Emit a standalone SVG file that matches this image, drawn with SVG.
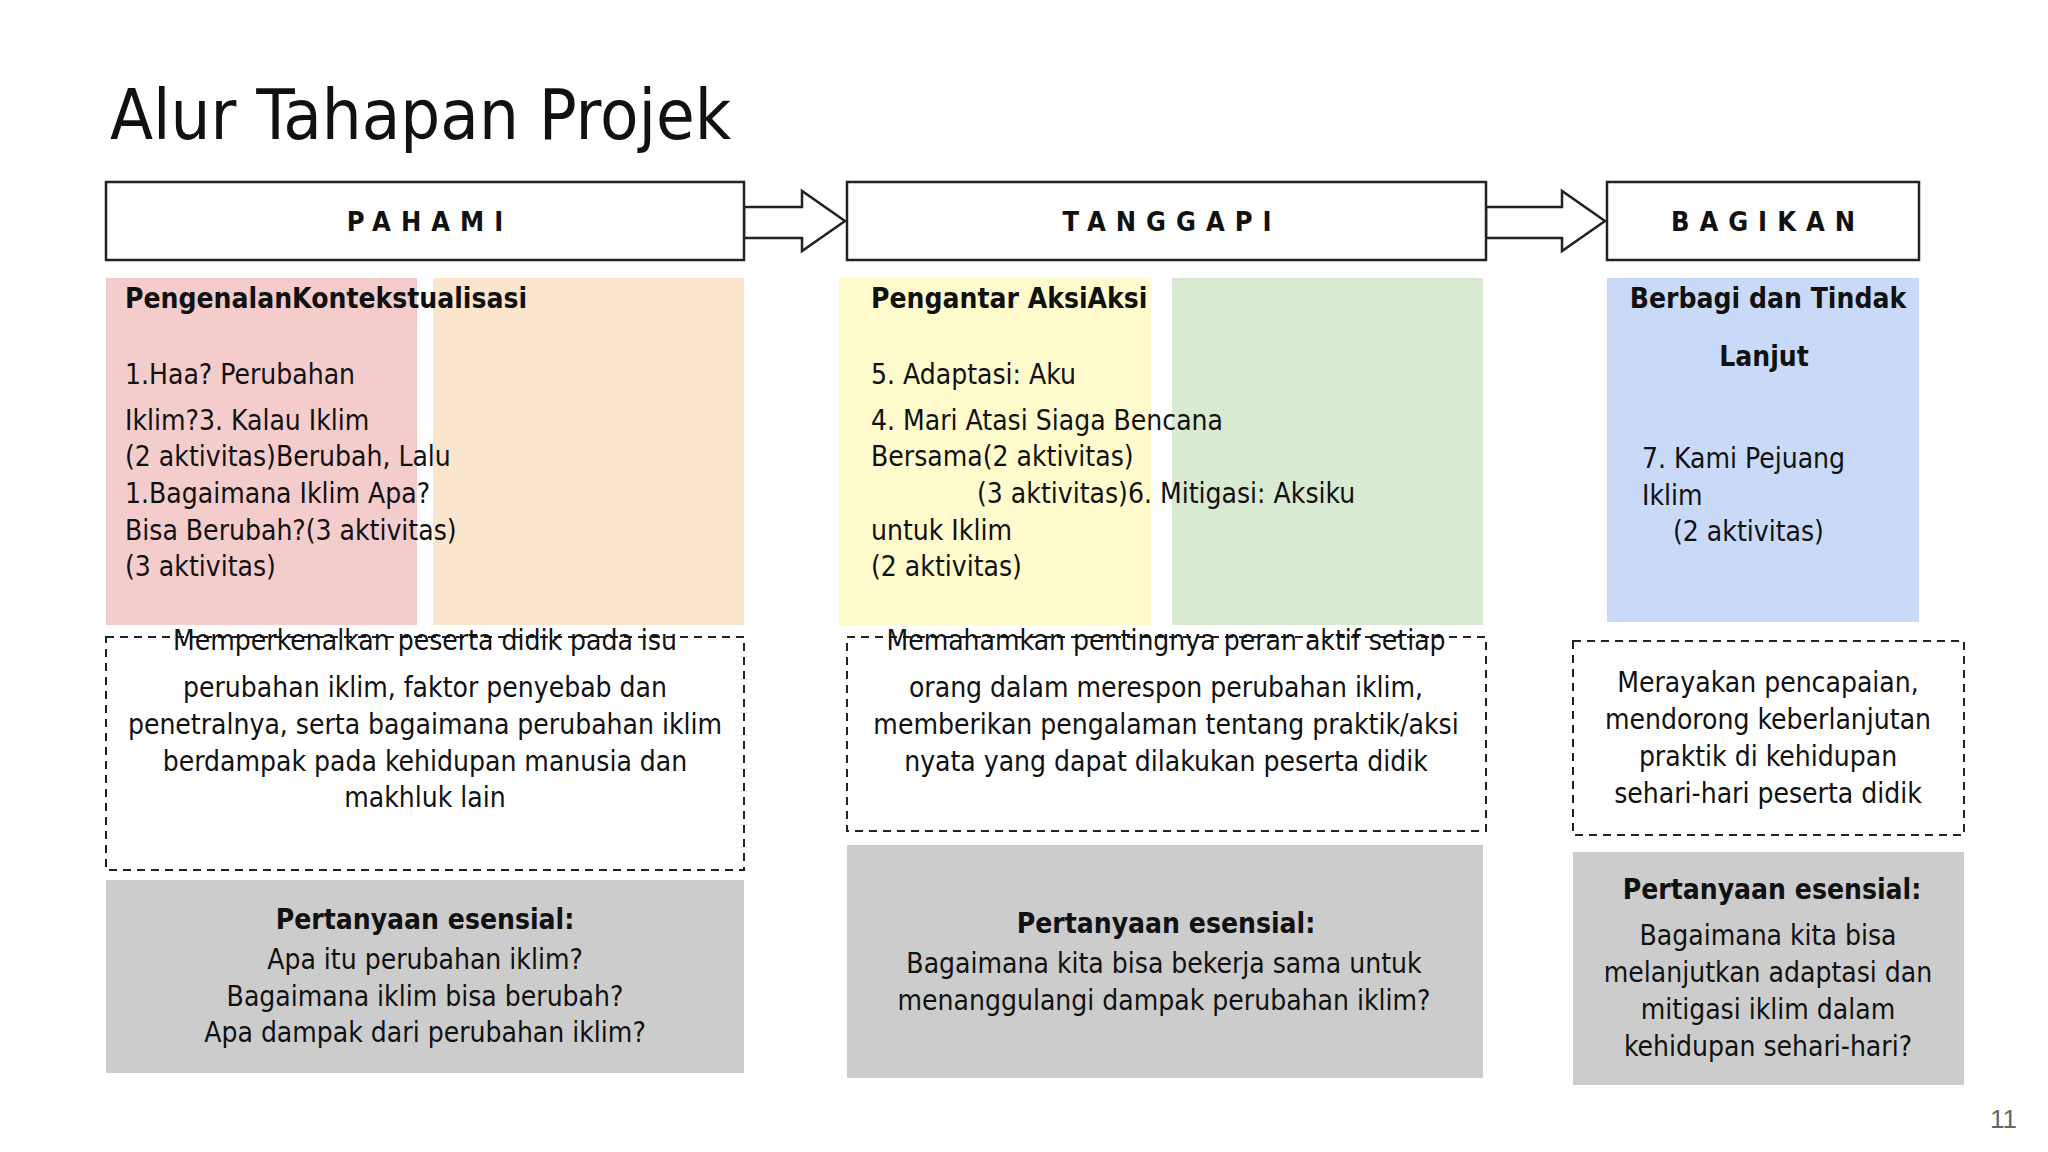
<svg xmlns="http://www.w3.org/2000/svg" width="2048" height="1152" viewBox="0 0 2048 1152">
<style>
text{font-family:"Liberation Sans Narrow","DejaVu Sans Condensed","Roboto Condensed","Liberation Sans",sans-serif;fill:#111}
.t{font-size:28px}
.b{font-size:28px;font-weight:bold}
.h{font-size:27px;font-weight:bold;letter-spacing:10px;text-anchor:middle}
.c{text-anchor:middle}
.hdr{fill:#fff;stroke:#222;stroke-width:2.5}
.dash{fill:#fff;stroke:#222;stroke-width:2;stroke-dasharray:8 6}
.gray{fill:#cccccc}
.arrow{fill:#fff;stroke:#222;stroke-width:2.5}
</style>
<rect width="2048" height="1152" fill="#fff"/>
<text x="110" y="139" style="font-size:70px">Alur Tahapan Projek</text>

<g id="connectors">
<polygon class="arrow" points="744,207 802,207 802,191 845,221 802,251 802,238 744,238"/>
<polygon class="arrow" points="1486,207 1562,207 1562,191 1605,221 1562,251 1562,238 1486,238"/>
</g>

<g id="pahami">
<rect class="hdr" x="106" y="182" width="638" height="78"/>
<text class="h" x="430" y="231">PAHAMI</text>
</g>
<g id="tanggapi">
<rect class="hdr" x="847" y="182" width="639" height="78"/>
<text class="h" x="1172" y="231">TANGGAPI</text>
</g>
<g id="bagikan">
<rect class="hdr" x="1607" y="182" width="312" height="78"/>
<text class="h" x="1768" y="231">BAGIKAN</text>
</g>

<g id="pahami-activities">
<rect x="106" y="278" width="311" height="347" fill="#f4cccc"/>
<rect x="433" y="278" width="311" height="347" fill="#fce5cd"/>
<text class="b" x="125" y="308">PengenalanKontekstualisasi</text>
<text class="t" x="125" y="384">1.Haa? Perubahan</text>
<text class="t" x="125" y="430">Iklim?3. Kalau Iklim</text>
<text class="t" x="125" y="466">(2 aktivitas)Berubah, Lalu</text>
<text class="t" x="125" y="503">1.Bagaimana Iklim Apa?</text>
<text class="t" x="125" y="540">Bisa Berubah?(3 aktivitas)</text>
<text class="t" x="125" y="576">(3 aktivitas)</text>
</g>

<g id="tanggapi-activities">
<rect x="839" y="278" width="312" height="347" fill="#fffbcc"/>
<rect x="1172" y="278" width="311" height="347" fill="#d9ead3"/>
<text class="b" x="871" y="308">Pengantar AksiAksi</text>
<text class="t" x="871" y="384">5. Adaptasi: Aku</text>
<text class="t" x="871" y="430">4. Mari Atasi Siaga Bencana</text>
<text class="t" x="871" y="466">Bersama(2 aktivitas)</text>
<text class="t" x="977" y="503">(3 aktivitas)6. Mitigasi: Aksiku</text>
<text class="t" x="871" y="540">untuk Iklim</text>
<text class="t" x="871" y="576">(2 aktivitas)</text>
</g>

<g id="bagikan-activities">
<rect x="1607" y="278" width="312" height="344" fill="#c9daf8"/>
<text class="b c" x="1768" y="308">Berbagi dan Tindak</text>
<text class="b c" x="1764" y="366">Lanjut</text>
<text class="t" x="1642" y="468">7. Kami Pejuang</text>
<text class="t" x="1642" y="505">Iklim</text>
<text class="t" x="1673" y="541">(2 aktivitas)</text>
</g>

<g id="pahami-desc">
<rect class="dash" x="106" y="637" width="638" height="233"/>
<text class="t c" x="425" y="650">Memperkenalkan peserta didik pada isu</text>
<text class="t c" x="425" y="697">perubahan iklim, faktor penyebab dan</text>
<text class="t c" x="425" y="734">penetralnya, serta bagaimana perubahan iklim</text>
<text class="t c" x="425" y="771">berdampak pada kehidupan manusia dan</text>
<text class="t c" x="425" y="807">makhluk lain</text>
</g>
<g id="tanggapi-desc">
<rect class="dash" x="847" y="637" width="639" height="194"/>
<text class="t c" x="1166" y="650">Memahamkan pentingnya peran aktif setiap</text>
<text class="t c" x="1166" y="697">orang dalam merespon perubahan iklim,</text>
<text class="t c" x="1166" y="734">memberikan pengalaman tentang praktik/aksi</text>
<text class="t c" x="1166" y="771">nyata yang dapat dilakukan peserta didik</text>
</g>
<g id="bagikan-desc">
<rect class="dash" x="1573" y="641" width="391" height="194"/>
<text class="t c" x="1768" y="692">Merayakan pencapaian,</text>
<text class="t c" x="1768" y="729">mendorong keberlanjutan</text>
<text class="t c" x="1768" y="766">praktik di kehidupan</text>
<text class="t c" x="1768" y="803">sehari-hari peserta didik</text>
</g>

<g id="pahami-question">
<rect class="gray" x="106" y="880" width="638" height="193"/>
<text class="b c" x="425" y="929">Pertanyaan esensial:</text>
<text class="t c" x="425" y="969">Apa itu perubahan iklim?</text>
<text class="t c" x="425" y="1006">Bagaimana iklim bisa berubah?</text>
<text class="t c" x="425" y="1042">Apa dampak dari perubahan iklim?</text>
</g>
<g id="tanggapi-question">
<rect class="gray" x="847" y="845" width="636" height="233"/>
<text class="b c" x="1166" y="933">Pertanyaan esensial:</text>
<text class="t c" x="1164" y="973">Bagaimana kita bisa bekerja sama untuk</text>
<text class="t c" x="1164" y="1010">menanggulangi dampak perubahan iklim?</text>
</g>
<g id="bagikan-question">
<rect class="gray" x="1573" y="852" width="391" height="233"/>
<text class="b c" x="1772" y="899">Pertanyaan esensial:</text>
<text class="t c" x="1768" y="945">Bagaimana kita bisa</text>
<text class="t c" x="1768" y="982">melanjutkan adaptasi dan</text>
<text class="t c" x="1768" y="1019">mitigasi iklim dalam</text>
<text class="t c" x="1768" y="1056">kehidupan sehari-hari?</text>
</g>

<text x="1990" y="1128" style="font-size:26px;fill:#666;font-family:'Liberation Sans',sans-serif">11</text>
</svg>
